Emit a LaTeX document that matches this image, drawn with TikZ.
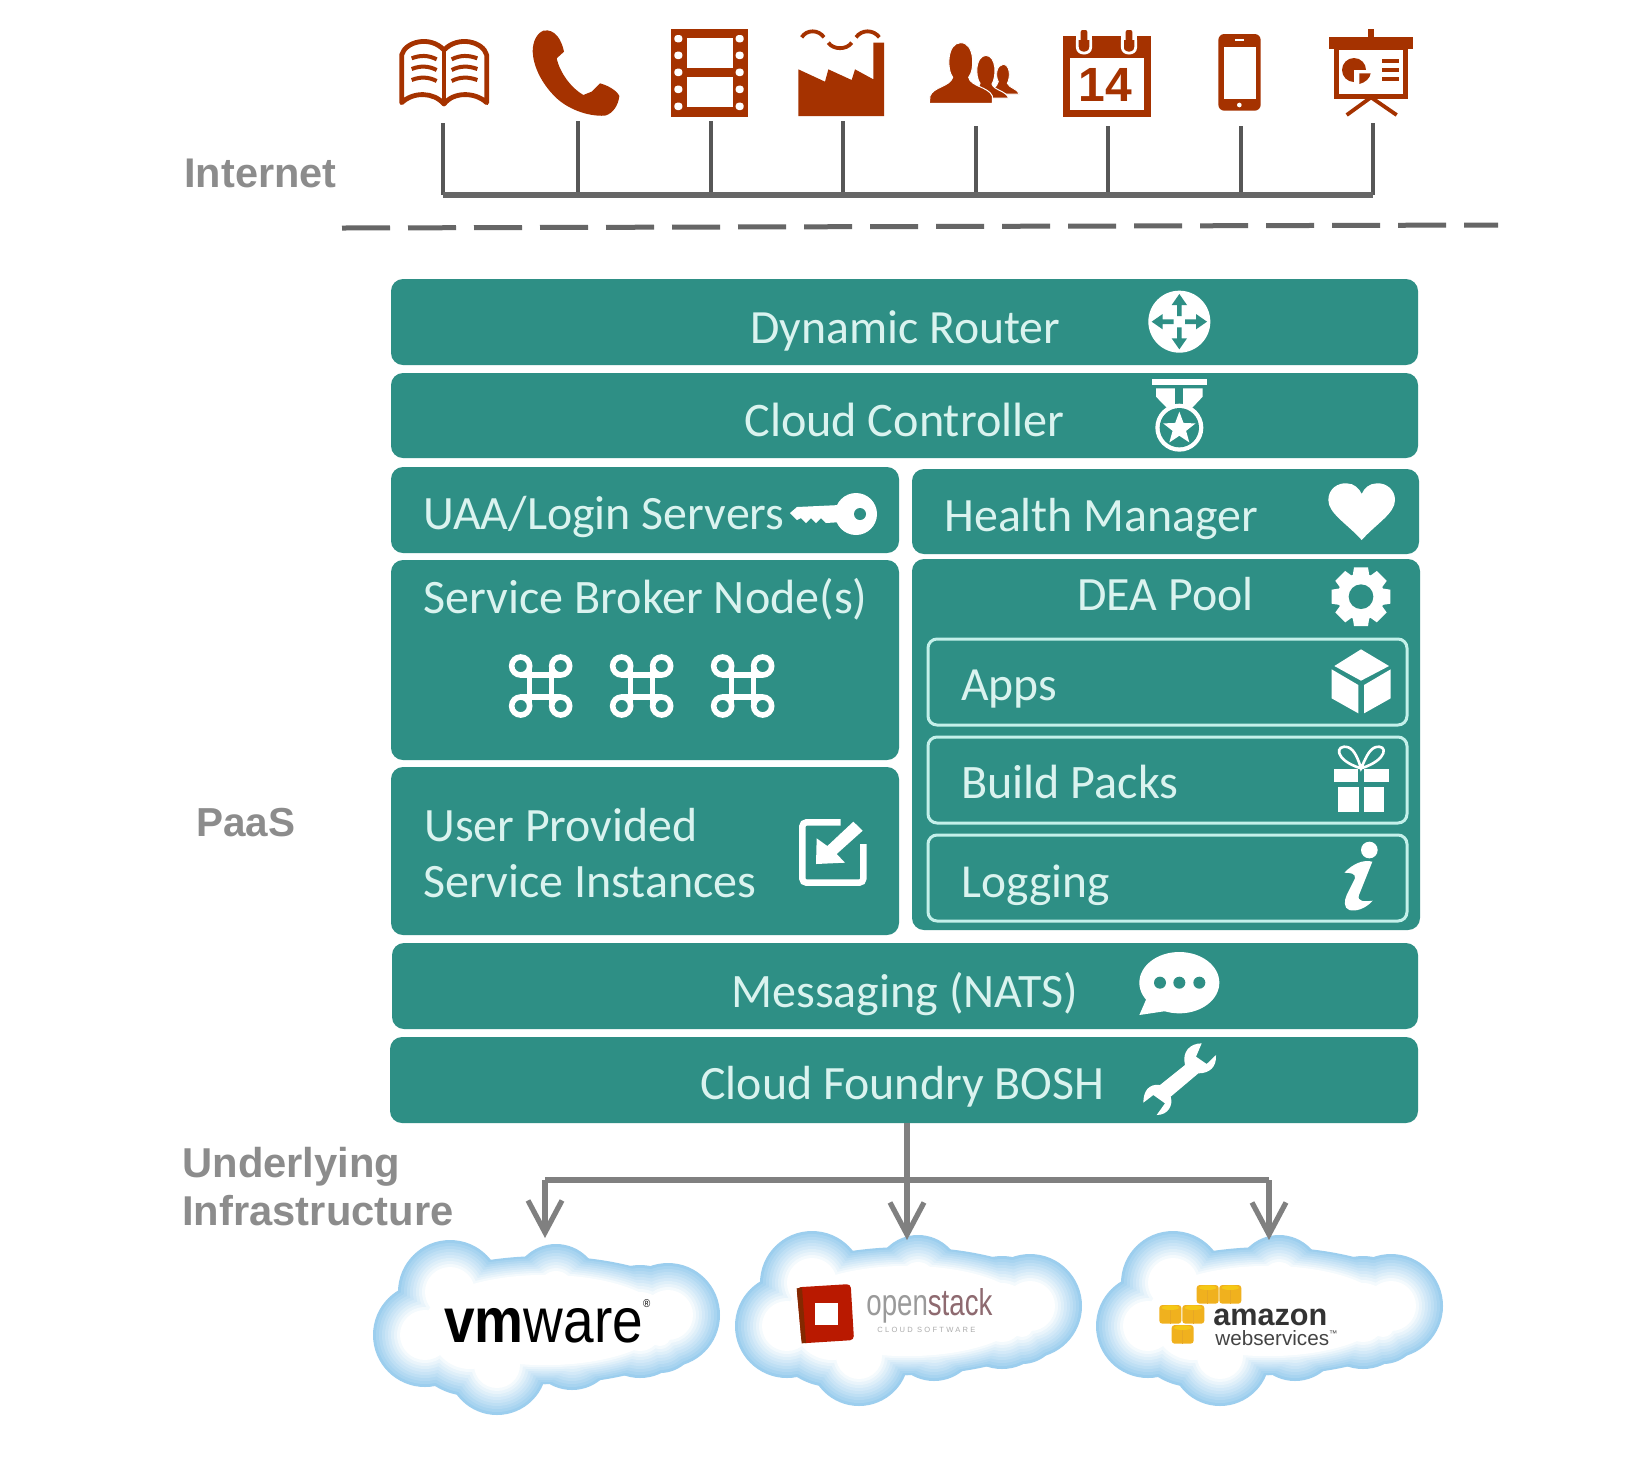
\documentclass[tikz,border=0pt]{standalone}
\usepackage{fontspec}
\usepackage{graphicx}
\usetikzlibrary{fit,arrows.meta,shapes.geometric}
\setmainfont{Carlito}
\newfontfamily\arialf{Liberation Sans}
\definecolor{tealbox}{HTML}{2E8F85}
\definecolor{tealtxt}{HTML}{DAF3EF}
\definecolor{tealline}{HTML}{C4F0EA}
\definecolor{brick}{HTML}{A53200}
\definecolor{lblgray}{HTML}{8C8C8C}
\definecolor{busgray}{HTML}{666666}
\definecolor{arrgray}{HTML}{808080}
\definecolor{cloudblue}{HTML}{9CCEEE}
\definecolor{awsy}{HTML}{F0B11E}
\newdimen\pxu \pxu=0.5pt
\tikzset{
  box/.style={rectangle,fill=tealbox,rounded corners=6pt,inner sep=0pt},
  ibox/.style={rectangle,draw=tealline,line width=1.5pt,rounded corners=4.5pt,inner sep=0pt},
  zc/.style={x=0.166667pt,y=-0.166667pt},
  drop/.style={draw=busgray!85!black,line width=1.8pt},
  bus/.style={draw=busgray,line width=3pt,line join=miter},
  conn/.style={draw=arrgray,line width=2.6pt},
  connarr/.style={conn,-{Straight Barb[length=16pt,width=17pt,line width=2.6pt]}},
}
\newcommand\boxn[6]{\node[#6,fit={(#2,#3) (#4,#5)}] (#1) {};}
\newcommand\tx[5]{\node[anchor=base west,inner sep=0pt,text=tealtxt] (#1) at (#2,#3) {\resizebox{#4\pxu}{!}{\fontsize{22}{26}\selectfont #5}};}
\newcommand\lb[5]{\node[anchor=base west,inner sep=0pt,text=lblgray] (#1) at (#2,#3) {\resizebox{#4\pxu}{!}{\arialf\bfseries\fontsize{20}{24}\selectfont #5}};}
\newcommand\cloudlayer[3]{%
  \foreach \cx/\cy/\r in {450/1292/52,556/1288/44,668/1315/52,640/1320/55,640/1330/48,660/1335/38,572/1345/45,497/1365/50,425/1335/52,545/1322/62,470/1330/66,610/1318/50}{
    \fill ({\cx+#1},{\cy+#2}) circle ({\r-#3});
  }
  \fill ({545+#1},{1320+#2}) ellipse ({160-1.5*#3} and {64-0.7*#3});
}
\newcommand\cloudn[3]{%
  \foreach \k in {0,3,...,27}{
    \pgfmathtruncatemacro\pp{100-\k*100/27}
    \colorlet{cl}{cloudblue!\pp!white}
    \begin{scope}[fill=cl]\cloudlayer{#1}{#2}{\k}\end{scope}
  }
  \coordinate (#3) at ({545+#1},{1320+#2});
}
\begin{document}
\begin{tikzpicture}[x=0.5pt,y=-0.5pt]
\useasboundingbox (0,0) rectangle (1650,1458);
\fill[white] (0,0) rectangle (1650,1458);

% ---------- clouds
\cloudn{0}{0}{cloudA}
\cloudn{362}{-9}{cloudB}
\cloudn{723}{-9}{cloudC}

% ---------- top bus
\foreach \n/\x/\t in {1/443/123,2/578/121,3/711/121,4/843/121,5/976/126,6/1108/126,7/1241/126,8/1373/123}{
  \coordinate (icon\n) at (\x,\t);
  \coordinate (bus\n) at (\x,195);
  \draw[drop] (icon\n) -- (bus\n);
}
\draw[bus] (bus1) -- (bus8);
\coordinate (dashA) at (342,228);
\coordinate (dashB) at (1498,225);
\draw[draw=busgray,line width=2.5pt,dash pattern=on 24pt off 9pt] (dashA) -- (dashB);

% ---------- side labels
\lb{lInternet}{184}{187}{152}{Internet}
\lb{lPaaS}{196}{836}{99}{PaaS}
\lb{lUnder}{182}{1177}{218}{Underlying}
\lb{lInfra}{182}{1225}{271}{Infrastructure}

% ---------- boxes
\boxn{router}{391}{279}{1418}{365}{box}
\boxn{controller}{391}{373}{1418}{458}{box}
\boxn{uaa}{391}{467}{899}{553}{box}
\boxn{health}{912}{469}{1419}{554}{box}
\boxn{broker}{391}{560}{899}{760}{box}
\boxn{dea}{912}{559}{1420}{930}{box}
\boxn{apps}{928}{639}{1407}{725}{ibox}
\boxn{packs}{928}{737}{1407}{823}{ibox}
\boxn{logging}{928}{835}{1407}{921}{ibox}
\boxn{upsi}{391}{767}{899}{935}{box}
\boxn{nats}{392}{943}{1418}{1029}{box}
\boxn{bosh}{390}{1037}{1418}{1123}{box}

% ---------- box texts
\tx{tRouter}{750}{343.5}{310}{Dynamic Router}
\tx{tCtrl}{744}{436.5}{320}{Cloud Controller}
\tx{tUaa}{423}{529}{361}{UAA/Login Servers}
\tx{tHealth}{944}{531.5}{314}{Health Manager}
\tx{tBroker}{423}{613}{444}{Service Broker Node(s)}
\tx{tDea}{1077}{610}{176}{DEA Pool}
\tx{tApps}{961}{700.5}{96}{Apps}
\tx{tPacks}{961}{798.5}{217}{Build Packs}
\tx{tLog}{961}{897}{148}{Logging}
\tx{tUser}{424}{841}{273}{User Provided}
\tx{tInst}{423}{897}{333}{Service Instances}
\tx{tNats}{731}{1007}{347}{Messaging (NATS)}
\tx{tBosh}{700}{1099.5}{404}{Cloud Foundry BOSH}

% ---------- connectors to clouds
\coordinate (h1) at (545,1180);
\coordinate (h2) at (907,1180);
\coordinate (h3) at (1269,1180);
\coordinate (t1) at (545,1238);
\coordinate (t2) at (907,1240);
\coordinate (t3) at (1269,1240);
\draw[conn] (h1) -- (h3);
\draw[connarr] (bosh.south -| h2) -- (t2);
\draw[connarr] (h1) -- (t1);
\draw[connarr] (h3) -- (t3);

% ---------- brick icons, left half
\begin{scope}[shift={(390,20)},zc]
  % book
  \draw[brick,line width=2.4pt,line join=round] (35,248) -- (35,105) .. controls (45,65) and (120,45) .. (162,90) .. controls (205,45) and (280,65) .. (290,105) -- (290,248) .. controls (255,215) and (190,215) .. (162,252) .. controls (130,215) and (70,215) .. (35,248) -- cycle;
  \draw[brick,line width=2.4pt] (162,90) -- (162,252);
  \foreach \yy in {115,147,180}{
    \draw[brick,line width=2pt] (65,\yy) .. controls (90,{\yy-10}) and (115,{\yy-10}) .. (140,{\yy+3});
    \draw[brick,line width=2pt] (185,{\yy+3}) .. controls (210,{\yy-10}) and (235,{\yy-10}) .. (262,\yy);
  }
  % phone
  \fill[brick] (460,32) .. controls (495,25) and (515,60) .. (522,95) -- (500,115) .. controls (510,160) and (545,205) .. (580,225) -- (605,215) -- (630,190) .. controls (650,195) and (680,210) .. (688,228) .. controls (685,255) and (670,280) .. (645,287) .. controls (590,290) and (530,265) .. (495,230) .. controls (455,190) and (430,140) .. (428,95) .. controls (428,65) and (440,40) .. (460,32) -- cycle;
  % film
  \fill[brick] (842,28) rectangle (1075,290);
  \fill[white] (892,55) rectangle (1028,144);
  \fill[white] (892,170) rectangle (1028,262);
  \foreach \yy in {45,95,146,197,248}{
    \fill[white,rounded corners=1.5pt] (853,\yy) rectangle (877,{\yy+22});
    \fill[white,rounded corners=1.5pt] (1037,\yy) rectangle (1061,{\yy+22});
  }
  % factory
  \fill[brick] (1225,148) -- (1305,185) -- (1315,148) -- (1385,180) -- (1395,148) -- (1450,178) -- (1450,68) -- (1482,68) -- (1482,288) -- (1225,288) -- cycle;
  \draw[brick,line width=1.9pt] (1235,52) .. controls (1250,28) and (1285,28) .. (1302,52);
  \draw[brick,line width=1.9pt] (1315,68) .. controls (1330,90) and (1370,90) .. (1385,68);
  \draw[brick,line width=1.9pt] (1398,52) .. controls (1415,28) and (1450,28) .. (1468,52);
\end{scope}

% ---------- brick icons, right half
\begin{scope}[shift={(900,20)},zc]
  % people
  \fill[brick,draw=white,line width=.4pt] (262,222) .. controls (270,205) and (292,205) .. (295,185) .. controls (285,165) and (290,135) .. (310,133) .. controls (330,135) and (332,170) .. (322,190) .. controls (328,205) and (350,205) .. (358,222) -- cycle;
  \fill[brick,draw=white,line width=.5pt] (200,234) .. controls (210,210) and (240,210) .. (240,190) .. controls (225,170) and (225,108) .. (258,106) .. controls (290,108) and (290,170) .. (276,192) .. controls (280,210) and (318,212) .. (326,234) -- cycle;
  \fill[brick,draw=white,line width=.5pt] (88,250) -- (90,228) .. controls (100,200) and (150,200) .. (158,172) .. controls (140,150) and (140,68) .. (182,68) .. controls (225,68) and (225,150) .. (206,172) .. controls (212,200) and (265,200) .. (277,228) -- (277,250) -- cycle;
  % calendar
  \fill[brick] (490,48) rectangle (752,290);
  \fill[white] (510,115) rectangle (732,270);
  \foreach \xx in {552,687}{
    \draw[white,line width=1.4pt] ({\xx-20},60) -- ({\xx-20},82) .. controls ({\xx-20},105) and ({\xx+20},105) .. ({\xx+20},82) -- ({\xx+20},60);
    \fill[white] ({\xx-24},48) rectangle ({\xx+24},60);
    \fill[brick,rounded corners=1pt] ({\xx-10},30) rectangle ({\xx+10},92);
  }
  \node[inner sep=0pt,text=brick,font=\arialf\bfseries\fontsize{24}{24}\selectfont] (calnum) at (617,194) {14};
  % mobile
  \fill[brick,rounded corners=3pt] (955,42) rectangle (1082,272);
  \fill[white] (972,80) rectangle (1068,238);
  \fill[white] (1005,58) rectangle (1032,64);
  \fill[white] (1018,255) circle (7);
  % presentation
  \fill[brick] (1405,28) rectangle (1421,50);
  \fill[brick] (1288,50) rectangle (1538,86);
  \fill[brick] (1303,86) rectangle (1523,236);
  \fill[white] (1318,90) rectangle (1508,222);
  \draw[brick,line width=1.9pt] (1413,232) -- (1340,285);
  \draw[brick,line width=1.9pt] (1413,232) -- (1490,285);
  \fill[brick] (1362,150) circle (36);
  \fill[white] (1362,150) -- (1402,150) -- (1402,195) -- (1362,195) -- cycle;
  \fill[brick] (1378,160) -- (1412,160) .. controls (1410,175) and (1395,188) .. (1378,192) -- cycle;
  \foreach \yy in {118,145,172}{\fill[brick] (1445,\yy) rectangle (1497,{\yy+10});}
\end{scope}

% ---------- white icons: router, medal, heart, gear
\begin{scope}[shift={(1130,280)},zc]
  \fill[white] (148,125) circle (93);
  \foreach \a in {0,90,180,270}{
    \begin{scope}[rotate around={\a:(148,125)}]
      \fill[tealbox] (148,42) -- (125,75) -- (141,75) -- (141,108) -- (155,108) -- (155,75) -- (171,75) -- cycle;
    \end{scope}
  }
  % medal
  \fill[white] (65,298) rectangle (230,315);
  \fill[white] (78,325) -- (218,325) -- (218,350) -- (185,385) -- (112,385) -- (78,350) -- cycle;
  \fill[tealbox] (135,325) rectangle (160,380);
  \fill[white] (148,443) circle (72);
  \fill[tealbox] (148,443) circle (59);
  \node[star,star points=5,star point ratio=2.4,fill=white,minimum size=17pt,inner sep=0pt] (medalstar) at (148,446) {};
  % heart
  \fill[white] (695,780) .. controls (650,730) and (595,700) .. (595,660) .. controls (595,625) and (625,608) .. (650,610) .. controls (672,610) and (688,625) .. (695,642) .. controls (702,625) and (718,610) .. (740,610) .. controls (770,608) and (795,630) .. (795,660) .. controls (795,700) and (740,730) .. (695,780) -- cycle;
  % gear
  \foreach \a in {0,45,...,315}{
    \fill[white,rotate around={\a:(693,950)}] (672,862) -- (714,862) -- (720,900) -- (666,900) -- cycle;
  }
  \fill[white] (693,950) circle (70);
  \fill[tealbox] (693,950) circle (37);
\end{scope}

% ---------- white icons: cube, gift, i
\begin{scope}[shift={(1290,630)},zc]
  \fill[white] (213,58) -- (297,108) -- (213,152) -- (133,108) -- cycle;
  \fill[white] (125,118) -- (205,165) -- (205,250) -- (125,205) -- cycle;
  \fill[white] (222,165) -- (302,118) -- (302,205) -- (222,250) -- cycle;
  % gift
  \fill[white] (133,418) rectangle (205,455);
  \fill[white] (222,418) rectangle (297,455);
  \fill[white] (145,470) rectangle (207,547);
  \fill[white] (222,470) rectangle (283,547);
  \draw[white,line width=1.3pt] (213,415) .. controls (130,390) and (135,340) .. (175,352) .. controls (195,360) and (205,390) .. (213,415) .. controls (225,390) and (235,360) .. (255,352) .. controls (295,340) and (295,390) .. (213,415);
  % i
  \fill[white] (238,660) circle (25);
  \fill[white] (163,728) .. controls (190,700) and (220,688) .. (247,695) -- (207,795) .. controls (200,815) and (222,815) .. (248,812) .. controls (225,838) and (195,845) .. (178,840) .. controls (160,835) and (163,810) .. (170,795) -- (195,745) .. controls (198,730) and (180,728) .. (163,728) -- cycle;
\end{scope}

% ---------- white icons: command keys and edit box
\begin{scope}[shift={(500,640)},zc]
  \foreach \cx in {122,425,728}{
    \draw[white,line width=2.8pt] ({\cx-33},{138-60}) -- ({\cx-33},{138+60});
    \draw[white,line width=2.8pt] ({\cx+33},{138-60}) -- ({\cx+33},{138+60});
    \draw[white,line width=2.8pt] ({\cx-60},{138-33}) -- ({\cx+60},{138-33});
    \draw[white,line width=2.8pt] ({\cx-60},{138+33}) -- ({\cx+60},{138+33});
    \foreach \sx in {-60,60}{\foreach \sy in {-60,60}{
      \draw[white,line width=2.8pt] ({\cx+\sx},{138+\sy}) circle (27);
    }}
  }
  % edit icon
  \draw[white,line width=3.2pt,rounded corners=2pt] (1022,547) -- (907,547) -- (907,728) -- (1090,728) -- (1090,612);
  \fill[white] (1060,545) -- (1088,572) -- (1010,642) -- (1035,668) -- (948,672) -- (950,595) -- (982,618) -- cycle;
\end{scope}

% ---------- white icons: speech bubble, wrench
\begin{scope}[shift={(1110,940)},zc]
  \fill[white] (208,128) ellipse (120 and 92);
  \fill[white] (112,170) -- (88,225) -- (175,212) -- cycle;
  \foreach \xx in {150,208,268}{\fill[tealbox] (\xx,128) circle (18);}
  \fill[white] (275,310) .. controls (240,310) and (215,335) .. (225,375) -- (150,435) .. controls (115,430) and (100,455) .. (100,488) -- (130,465) -- (165,490) -- (140,525) .. controls (175,525) and (190,495) .. (182,470) -- (265,400) .. controls (300,400) and (320,380) .. (318,345) -- (290,372) -- (258,350) -- cycle;
\end{scope}

% ---------- key
\fill[white] (856,514) circle (21);
\fill[tealbox] (860,514) circle (6);
\fill[white] (790,513) -- (797,507) -- (840,505) -- (842,522) -- (826,523) -- (821,518) -- (816,523) -- (811,518) -- (806,523) -- (801,518) -- (797,520) -- cycle;

% ---------- vmware
\node[anchor=base west,inner sep=0pt] (vmw) at (444,1342) {\scalebox{1}[1.15]{\resizebox{206\pxu}{!}{\arialf\fontsize{28}{30}\selectfont{\bfseries vm}ware\raisebox{.55em}{\fontsize{5}{5}\selectfont ®}}}};

% ---------- openstack
\begin{scope}[shift={(760,1260)},zc]
  \fill[red!45!brick!90!black,rounded corners=2pt] (110,82) -- (272,72) -- (282,240) -- (125,250) -- cycle;
  \fill[brick!80!black] (110,85) -- (126,83) -- (138,249) -- (125,250) -- cycle;
  \fill[white] (165,130) rectangle (235,195);
\end{scope}
\node[anchor=base west,inner sep=0pt] (ostack) at (866,1315) {\resizebox{126\pxu}{27\pxu}{\arialf\fontsize{18}{20}\selectfont\textcolor[HTML]{9A9A9A}{open}\textcolor[HTML]{8E6A70}{stack}}};
\node[anchor=base west,inner sep=0pt] (ossub) at (877,1332) {\resizebox{98\pxu}{!}{\arialf\fontsize{8}{9}\selectfont\addfontfeature{LetterSpace=30}\textcolor[HTML]{ABABAB}{CLOUD SOFTWARE}}};

% ---------- amazon
\begin{scope}[shift={(1150,1270)},zc]
  \foreach \xx/\yy in {140/45,208/45,28/105,97/105,65/165}{
    \fill[awsy,rounded corners=1.5pt] (\xx,\yy) rectangle ({\xx+66},{\yy+56});
    \draw[awsy!80!brown,line width=.5pt] ({\xx+33},{\yy+14}) -- ({\xx+33},{\yy+56});
    \fill[awsy!70!yellow] ({\xx+33},{\yy+8}) ellipse (26 and 7);
  }
\end{scope}
\node[anchor=base west,inner sep=0pt] (amz) at (1213,1325) {\resizebox{114\pxu}{!}{\arialf\bfseries\fontsize{15}{16}\selectfont\textcolor[HTML]{333333}{amazon}}};
\node[anchor=base west,inner sep=0pt] (aws) at (1215,1345) {\resizebox{122\pxu}{!}{\arialf\fontsize{10}{11}\selectfont\textcolor[HTML]{444444}{webservices\raisebox{.4em}{\fontsize{4}{4}\selectfont ™}}}};
\end{tikzpicture}
\end{document}
